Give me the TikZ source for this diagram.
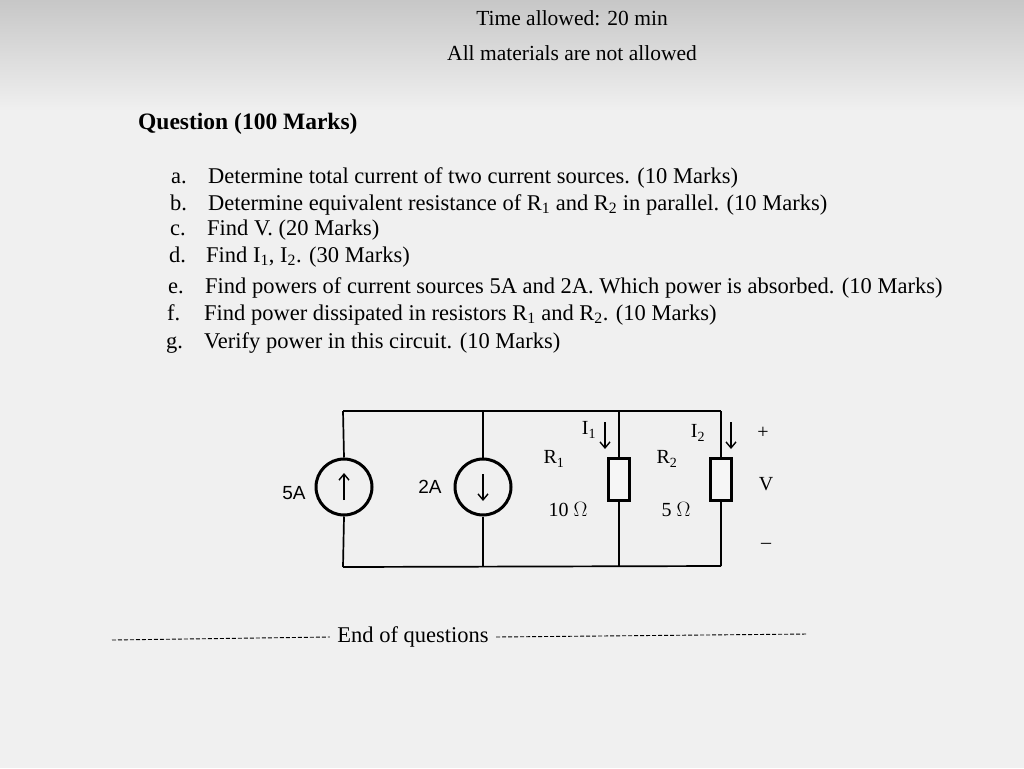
\documentclass[tikz,border=0pt]{standalone}
\usepackage{fontspec}
\usetikzlibrary{arrows.meta}
\setmainfont{Liberation Serif}
\newfontfamily\arialf{Liberation Sans}
\begin{document}
\begin{tikzpicture}[x=1pt,y=-1pt,
  txt/.style={anchor=west,font=\fontsize{22.5}{26}\selectfont,inner sep=0,text height=16pt,text depth=5pt},
  lbl/.style={font=\fontsize{20}{22}\selectfont,inner sep=0},
  wire/.style={line width=1.7pt},
  src/.style={circle,draw,line width=3pt,minimum size=56pt,inner sep=0},
  res/.style={draw,line width=3pt,fill=white!93!gray,minimum width=21pt,minimum height=42pt,inner sep=0},
  arr/.style={-{Straight Barb[length=6pt,width=10pt]},line width=1.4pt}]
\useasboundingbox (0,0) rectangle (1024,768);
\fill[top color=black!22,bottom color=black!6] (0,0) rectangle (1024,110);
\fill[black!6] (0,110) rectangle (1024,768);
% header
\node[font=\fontsize{21.5}{24}\selectfont] (t1) at (572,18) {Time allowed: 20 min};
\node[font=\fontsize{21.5}{24}\selectfont] (t2) at (572,53) {All materials are not allowed};
\node[txt,font=\fontsize{23.5}{26}\selectfont\bfseries] (q) at (138,124) {Question (100 Marks)};
\node[txt] (la) at (171,178) {a.};
\node[txt] (a) at (208,178) {Determine total current of two current sources. (10 Marks)};
\node[txt] (lb) at (170,205) {b.};
\node[txt] (b) at (208,205) {Determine equivalent resistance of R\textsubscript{1} and R\textsubscript{2} in parallel. (10 Marks)};
\node[txt] (lc) at (170,230) {c.};
\node[txt] (c) at (207,230) {Find V. (20 Marks)};
\node[txt] (ld) at (169,257) {d.};
\node[txt] (d) at (206,257) {Find I\textsubscript{1}, I\textsubscript{2}. (30 Marks)};
\node[txt] (le) at (168,288) {e.};
\node[txt] (e) at (205,288) {Find powers of current sources 5A and 2A. Which power is absorbed. (10 Marks)};
\node[txt] (lf) at (167,315) {f.};
\node[txt] (f) at (204,315) {Find power dissipated in resistors R\textsubscript{1} and R\textsubscript{2}. (10 Marks)};
\node[txt] (lg) at (166,343) {g.};
\node[txt] (g) at (204,343) {Verify power in this circuit. (10 Marks)};
% circuit
\coordinate (tl) at (343,411); \coordinate (tr) at (721,411);
\coordinate (bl) at (343,567); \coordinate (br) at (721,566);
\node[src] (s5) at (344,487) {};
\node[src] (s2) at (483,487) {};
\node[res] (r1) at (619,479) {};
\node[res] (r2) at (721,479) {};
\draw[wire] (tl) -- (tr);
\draw[wire] (bl) -- (br);
\draw[wire] (tl) -- (s5.north) (s5.south) -- (bl);
\draw[wire] (483,411) -- (s2.north) (s2.south) -- (483,567);
\draw[wire] (619,411) -- (r1.north) (r1.south) -- (619,567);
\draw[wire] (tr) -- (r2.north) (r2.south) -- (br);
\draw[arr] (344,500) -- (344,473);
\draw[arr] (483,474) -- (483,501);
\draw[arr] (605,422) -- (605,449);
\draw[arr] (731,422) -- (731,449);
\node[font=\arialf\fontsize{19}{22}\selectfont] (l5) at (294,493) {5A};
\node[font=\arialf\fontsize{19}{22}\selectfont] (l2) at (430,487) {2A};
\node[lbl] (lr1) at (554,459) {R\textsubscript{1}};
\node[lbl] (lo1) at (568,510) {10 $\Omega$};
\node[lbl] (lr2) at (667,459) {R\textsubscript{2}};
\node[lbl] (lo2) at (676,510) {5 $\Omega$};
\node[lbl] (li1) at (589,430) {I\textsubscript{1}};
\node[lbl] (li2) at (698,433) {I\textsubscript{2}};
\node[lbl] (pl) at (763,433) {+};
\node[lbl] (vv) at (766,484) {V};
\node[lbl] (mi) at (766,546) {--};
% end
\node[font=\fontsize{22.5}{26}\selectfont] (end) at (413,637) {End of questions};
\draw[dash pattern=on 4pt off 2pt,line width=0.9pt] (112,640) -- ([xshift=-4pt]end.west);
\draw[dash pattern=on 4pt off 2pt,line width=0.9pt] ([xshift=4pt]end.east) -- (808,634);
\end{tikzpicture}
\end{document}
